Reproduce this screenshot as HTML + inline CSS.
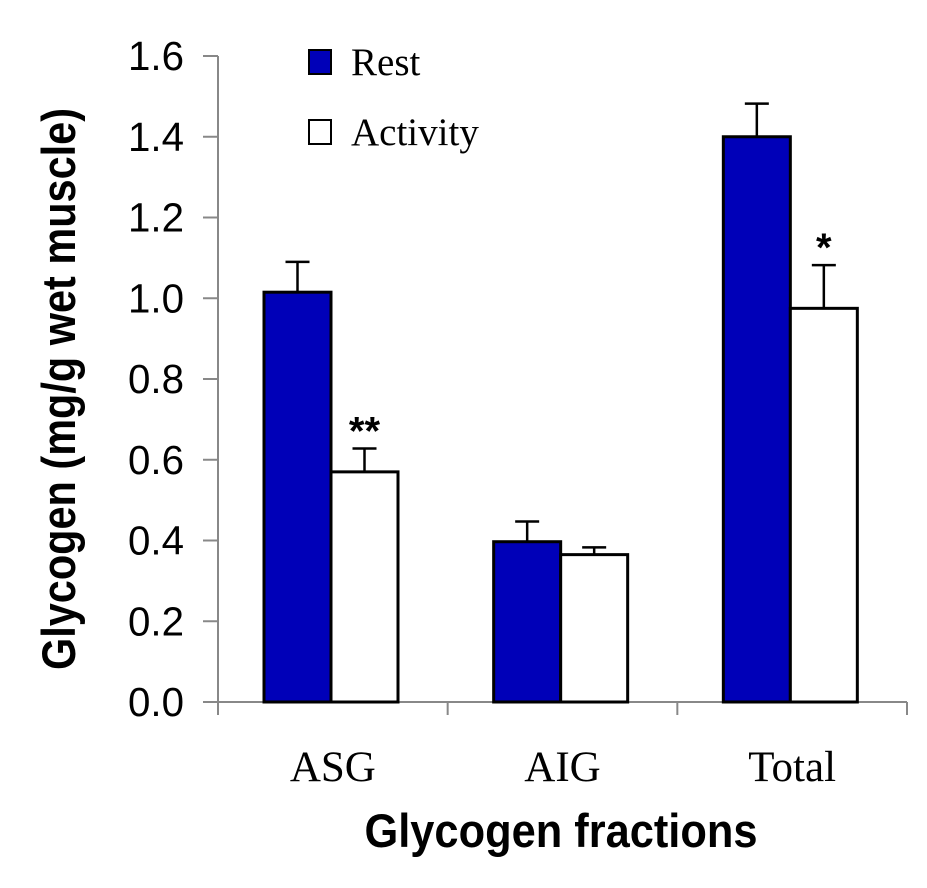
<!DOCTYPE html>
<html><head><meta charset="utf-8"><style>
html,body{margin:0;padding:0;background:#fff;}
svg{display:block;}
</style></head><body>
<svg width="927" height="888">
<g id="plot"></g>
</svg>
<script>
const categories = ["ASG", "AIG", "Total"];
const restValues = [1.015, 0.397, 1.40];
const restErrors = [0.075, 0.05, 0.082];
const activityValues = [0.570, 0.365, 0.975];
const activityErrors = [0.058, 0.018, 0.107];
const significance = ["**", "", "*"];
const yTicks = ["0.0","0.2","0.4","0.6","0.8","1.0","1.2","1.4","1.6"];

const NS="http://www.w3.org/2000/svg";
const g=document.getElementById('plot');
const X0=218, X1=907, Y0=702, YTOP=56, YMAX=1.6;
const catW=(X1-X0)/categories.length;
const barW=67;
function y(v){return Y0-(v/YMAX)*(Y0-YTOP);}
function mk(tag,attrs,name,text){const e=document.createElementNS(NS,tag);for(const k in attrs)e.setAttribute(k,attrs[k]);


if(text!==undefined)e.textContent=text;g.appendChild(e);return e;}

mk('line',{x1:X0,y1:YTOP,x2:X0,y2:Y0+13,stroke:'#888','stroke-width':2},'y-axis');
mk('line',{x1:X0-15,y1:Y0,x2:X1,y2:Y0,stroke:'#888','stroke-width':2},'x-axis');
yTicks.forEach(t=>{const v=parseFloat(t);const yy=y(v);
 mk('line',{x1:X0-15,y1:yy,x2:X0,y2:yy,stroke:'#888','stroke-width':2},'y-tick');
 mk('text',{x:184,y:yy+14,'text-anchor':'end','font-family':'Liberation Sans, sans-serif','font-size':41,textLength:56,lengthAdjust:'spacingAndGlyphs'},'y-tick-label',t);
});
for(let i=1;i<=categories.length;i++){const xx=X0+i*catW;
 mk('line',{x1:xx,y1:Y0,x2:xx,y2:Y0+13,stroke:'#888','stroke-width':2},'x-tick');}

function bar(xl,v,e,fill,name){
 mk('rect',{x:xl,y:y(v),width:barW,height:Y0-y(v),fill:fill,stroke:'#000','stroke-width':3},name);
 const cx=xl+barW/2;
 mk('line',{x1:cx,y1:y(v),x2:cx,y2:y(v+e),stroke:'#000','stroke-width':2.5},name+'-error');
 mk('line',{x1:cx-12,y1:y(v+e),x2:cx+12,y2:y(v+e),stroke:'#000','stroke-width':2.5},name+'-error-cap');
}
categories.forEach((c,i)=>{
 const left=X0+i*catW+46;
 bar(left,restValues[i],restErrors[i],'#0000b8','bar-rest-'+c.toLowerCase());
 bar(left+barW,activityValues[i],activityErrors[i],'#fff','bar-activity-'+c.toLowerCase());
 if(significance[i]) mk('text',{x:left+barW*1.5,y:y(activityValues[i]+activityErrors[i])-4,'text-anchor':'middle','font-family':'Liberation Sans, sans-serif','font-size':40,'font-weight':'bold'},'significance-'+c.toLowerCase(),significance[i]);
 mk('text',{x:X0+(i+0.5)*catW,y:781,'text-anchor':'middle','font-family':'Liberation Serif, serif','font-size':43},'x-label-'+c.toLowerCase(),c);
});

mk('rect',{x:309,y:50,width:22,height:24,fill:'#0000b8',stroke:'#000','stroke-width':2},'legend-rest-swatch');
mk('text',{x:351,y:75,'font-family':'Liberation Serif, serif','font-size':39},'legend-rest-label','Rest');
mk('rect',{x:309,y:120,width:22,height:24,fill:'#fff',stroke:'#000','stroke-width':2},'legend-activity-swatch');
mk('text',{x:351,y:145,'font-family':'Liberation Serif, serif','font-size':39},'legend-activity-label','Activity');

mk('text',{x:0,y:0,transform:'translate(75,389) rotate(-90)','text-anchor':'middle','font-family':'Liberation Sans, sans-serif','font-size':47,'font-weight':'bold',textLength:562,lengthAdjust:'spacingAndGlyphs'},'y-axis-title','Glycogen (mg/g wet muscle)');
mk('text',{x:561,y:847,'text-anchor':'middle','font-family':'Liberation Sans, sans-serif','font-size':47,'font-weight':'bold',textLength:393,lengthAdjust:'spacingAndGlyphs'},'x-axis-title','Glycogen fractions');
</script>
</body></html>
